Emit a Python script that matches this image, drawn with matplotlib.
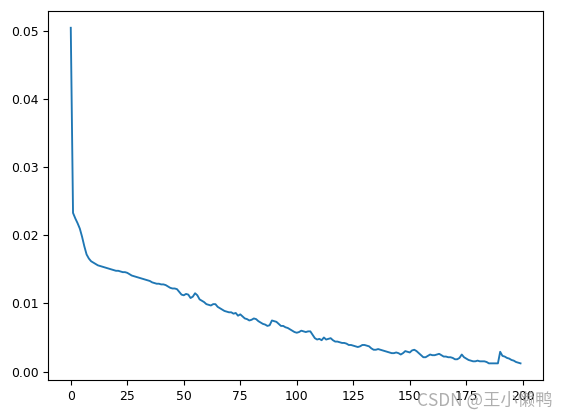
import matplotlib
matplotlib.use('Agg')
import matplotlib.pyplot as plt

# loss per epoch
epochs = list(range(200))
loss = [
    0.0505, 0.0233, 0.0225, 0.0218, 0.0210, 0.0198, 0.0184, 0.0172, 0.0166, 0.0162,
    0.0160, 0.0158, 0.0156, 0.0155, 0.0154, 0.0153, 0.0152, 0.0151, 0.0150, 0.0149,
    0.0148, 0.0148, 0.0147, 0.0146, 0.0146, 0.0145, 0.0143, 0.0141, 0.0140, 0.0139,
    0.0138, 0.0137, 0.0136, 0.0135, 0.0134, 0.0133, 0.0131, 0.0130, 0.0129, 0.0129,
    0.0128, 0.0128, 0.0127, 0.0125, 0.0123, 0.0122, 0.0122, 0.0121, 0.0117, 0.0113,
    0.0112, 0.0114, 0.0113, 0.0108, 0.0110, 0.0115, 0.0112, 0.0106, 0.0104, 0.0102,
    0.0099, 0.0098, 0.0097, 0.0099, 0.0099, 0.0095, 0.0093, 0.0091, 0.0089, 0.0088,
    0.0087, 0.0087, 0.0085, 0.0086, 0.0082, 0.0084, 0.0081, 0.0078, 0.0077, 0.0075,
    0.0076, 0.0078, 0.0077, 0.0074, 0.0072, 0.0070, 0.0069, 0.0067, 0.0068, 0.0075,
    0.0074, 0.0073, 0.0070, 0.0067, 0.0067, 0.0065, 0.0064, 0.0062, 0.0060, 0.0058,
    0.0057, 0.0058, 0.0060, 0.0059, 0.0058, 0.0059, 0.0059, 0.0054, 0.0049, 0.0047,
    0.0048, 0.0046, 0.0050, 0.0047, 0.0048, 0.0049, 0.0046, 0.0044, 0.0044, 0.0043,
    0.0042, 0.0042, 0.0041, 0.0039, 0.0039, 0.0038, 0.0037, 0.0036, 0.0037, 0.0039,
    0.0039, 0.0038, 0.0037, 0.0034, 0.0032, 0.0032, 0.0033, 0.0032, 0.0031, 0.0030,
    0.0029, 0.0028, 0.0027, 0.0027, 0.0028, 0.0027, 0.0025, 0.0027, 0.0030, 0.0029,
    0.0028, 0.0031, 0.0032, 0.0030, 0.0027, 0.0024, 0.0021, 0.0021, 0.0023, 0.0025,
    0.0024, 0.0024, 0.0025, 0.0026, 0.0024, 0.0022, 0.0022, 0.0021, 0.0021, 0.0020,
    0.0018, 0.0018, 0.0020, 0.0025, 0.0021, 0.0019, 0.0017, 0.0016, 0.0015, 0.0015,
    0.0016, 0.0015, 0.0015, 0.0015, 0.0014, 0.0012, 0.0012, 0.0012, 0.0012, 0.0012,
    0.0029, 0.0023, 0.0022, 0.0020, 0.0019, 0.0017, 0.0016, 0.0014, 0.0013, 0.0012,
]

watermark = 'CSDN @王小懒鸭'

plt.rcParams['font.size'] = 8.9
fig = plt.figure(figsize=(5.68, 4.15), dpi=100)
ax = fig.add_axes([0.085, 0.084, 0.871, 0.8895])
ax.plot(epochs, loss, color='#1f77b4', linewidth=1.35)

fig.text(0.735, 0.022, watermark, color='#a0a0a0', alpha=0.85, fontsize=12.5,
         family=['Noto Sans CJK SC', 'DejaVu Sans'])

fig.savefig('out.png', dpi=100)
